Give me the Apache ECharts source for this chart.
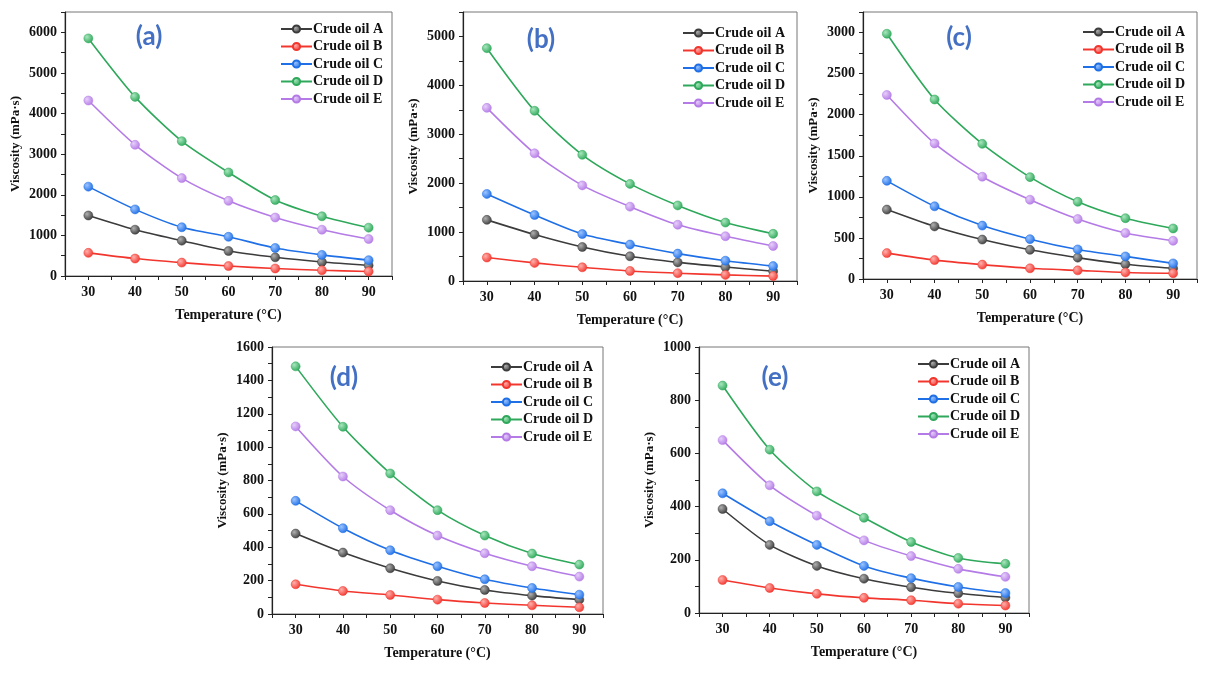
<!DOCTYPE html>
<html>
<head>
<meta charset="utf-8">
<script src="https://cdn.jsdelivr.net/npm/echarts@6/dist/echarts.min.js"></script>
<style>
  html, body { margin: 0; padding: 0; background: #fff; }
  #main { width: 1213px; height: 676px; }
</style>
</head>
<body>
<div id="main"></div>
<script>
// temperatures (°C)
var temps = [30, 40, 50, 60, 70, 80, 90];
var oilNames = ['Crude oil A', 'Crude oil B', 'Crude oil C', 'Crude oil D', 'Crude oil E'];
var panelLabels = ['(a)', '(b)', '(c)', '(d)', '(e)'];

// viscosity (mPa·s), one array per oil, per panel
var panelA = [
    [1490, 1140, 870, 615, 460, 345, 260],
    [570, 430, 330, 245, 185, 140, 110],
    [2200, 1640, 1200, 965, 690, 520, 390],
    [5850, 4410, 3320, 2550, 1870, 1470, 1190],
    [4320, 3230, 2410, 1850, 1440, 1140, 910]
];
var panelB = [
    [1250, 950, 695, 505, 380, 285, 200],
    [480, 370, 280, 205, 160, 125, 100],
    [1780, 1350, 960, 745, 560, 415, 305],
    [4760, 3480, 2580, 1985, 1545, 1195, 965],
    [3540, 2610, 1955, 1520, 1150, 915, 715]
];
var panelC = [
    [845, 640, 480, 355, 260, 180, 130],
    [315, 230, 175, 130, 105, 80, 70],
    [1195, 885, 650, 485, 360, 275, 190],
    [2985, 2185, 1645, 1240, 940, 740, 615],
    [2240, 1650, 1245, 965, 730, 560, 465]
];
var panelD = [
    [482, 368, 274, 198, 144, 110, 86],
    [178, 138, 114, 86, 66, 52, 40],
    [678, 514, 382, 286, 208, 156, 116],
    [1484, 1122, 842, 622, 470, 362, 296],
    [1124, 824, 622, 470, 364, 286, 224]
];
var panelE = [
    [391, 256, 177, 129, 97, 74, 58],
    [124, 94, 72, 57, 48, 35, 28],
    [450, 345, 256, 177, 131, 98, 75],
    [855, 614, 457, 358, 267, 207, 185],
    [650, 480, 366, 273, 214, 166, 136]
];
var panels = [panelA, panelB, panelC, panelD, panelE];
var yMax = [6500, 5500, 3250, 1600, 1000];
var yStep = [1000, 1000, 500, 200, 200];

var colors = ['#3c3c3c', '#f2362e', '#1f6fe6', '#2ea85a', '#b47be6'];
var lights = ['#b0b0b0', '#ffb0ac', '#9cc4ff', '#a8e6bd', '#e6cffa'];

var boxes = [
    {left: 65, top: 12, width: 327, height: 264},
    {left: 463, top: 12, width: 334, height: 269},
    {left: 863, top: 12, width: 334, height: 267},
    {left: 272, top: 347, width: 331, height: 267},
    {left: 699, top: 347, width: 330, height: 266}
];
var legendPos = [
    {left: 275, top: 17},
    {left: 677, top: 21},
    {left: 1077, top: 20},
    {left: 485, top: 355},
    {left: 912, top: 352}
];
var labelPos = [[149, 37], [541, 40], [959, 38], [344, 378], [775, 378]];

var serif = 'Liberation Serif';
var grids = [], xAxes = [], yAxes = [], series = [], legends = [], texts = [];

boxes.forEach(function (b, p) {
    grids.push({
        left: b.left, top: b.top, width: b.width, height: b.height,
        show: true, borderColor: '#777', borderWidth: 1, backgroundColor: 'transparent'
    });
    xAxes.push({
        type: 'value', gridIndex: p, min: 25, max: 95, interval: 5,
        name: 'Temperature (°C)', nameLocation: 'middle', nameGap: 32,
        nameTextStyle: {fontFamily: serif, fontWeight: 'bold', fontSize: 14, color: '#111'},
        axisLine: {lineStyle: {color: '#222', width: 1.2}},
        axisTick: {show: true, inside: false, length: 4, lineStyle: {color: '#222'}},
        splitLine: {show: false},
        axisLabel: {
            margin: 9, fontFamily: serif, fontWeight: 'bold', fontSize: 14, color: '#111',
            formatter: function (v) { return v % 10 === 0 ? v : ''; }
        }
    });
    var step = yStep[p];
    yAxes.push({
        type: 'value', gridIndex: p, min: 0, max: yMax[p], interval: step / 2,
        name: 'Viscosity (mPa·s)', nameLocation: 'middle', nameGap: 43,
        nameTextStyle: {fontFamily: serif, fontWeight: 'bold', fontSize: 13, color: '#111'},
        axisLine: {show: true, lineStyle: {color: '#222', width: 1.2}},
        axisTick: {show: true, inside: false, length: 4, lineStyle: {color: '#222'}},
        splitLine: {show: false},
        axisLabel: {
            margin: 8, fontFamily: serif, fontWeight: 'bold', fontSize: 14, color: '#111',
            showMaxLabel: true,
            formatter: function (v) { return v % step === 0 ? v : ''; }
        }
    });
    legends.push({
        left: legendPos[p].left, top: legendPos[p].top, orient: 'vertical',
        data: oilNames, itemWidth: 31, itemHeight: 9, itemGap: 3.5,
        textStyle: {fontFamily: serif, fontWeight: 'bold', fontSize: 14, color: '#111', padding: [0, 0, 0, -4]},
        selectedMode: false
    });
    texts.push({
        type: 'text', x: labelPos[p][0], y: labelPos[p][1],
        style: {
            text: panelLabels[p], fill: '#4470c4', font: 'bold 26px Lato',
            textAlign: 'center', textVerticalAlign: 'middle'
        }
    });
    panels[p].forEach(function (vals, k) {
        series.push({
            name: oilNames[k], type: 'line', xAxisIndex: p, yAxisIndex: p,
            data: temps.map(function (t, i) { return [t, vals[i]]; }),
            smooth: 0.25, symbol: 'circle', symbolSize: 9,
            lineStyle: {color: colors[k], width: 1.6},
            itemStyle: {
                color: {
                    type: 'radial', x: 0.35, y: 0.35, r: 0.7,
                    colorStops: [{offset: 0, color: lights[k]}, {offset: 1, color: colors[k]}]
                },
                borderColor: colors[k], borderWidth: 0.5
            },
            emphasis: {disabled: true},
            z: 3
        });
    });
});

var chart = echarts.init(document.getElementById('main'));
chart.setOption({
    backgroundColor: '#fff',
    animation: false,
    color: colors,
    grid: grids,
    xAxis: xAxes,
    yAxis: yAxes,
    legend: legends,
    series: series,
    graphic: texts
});
</script>
</body>
</html>
